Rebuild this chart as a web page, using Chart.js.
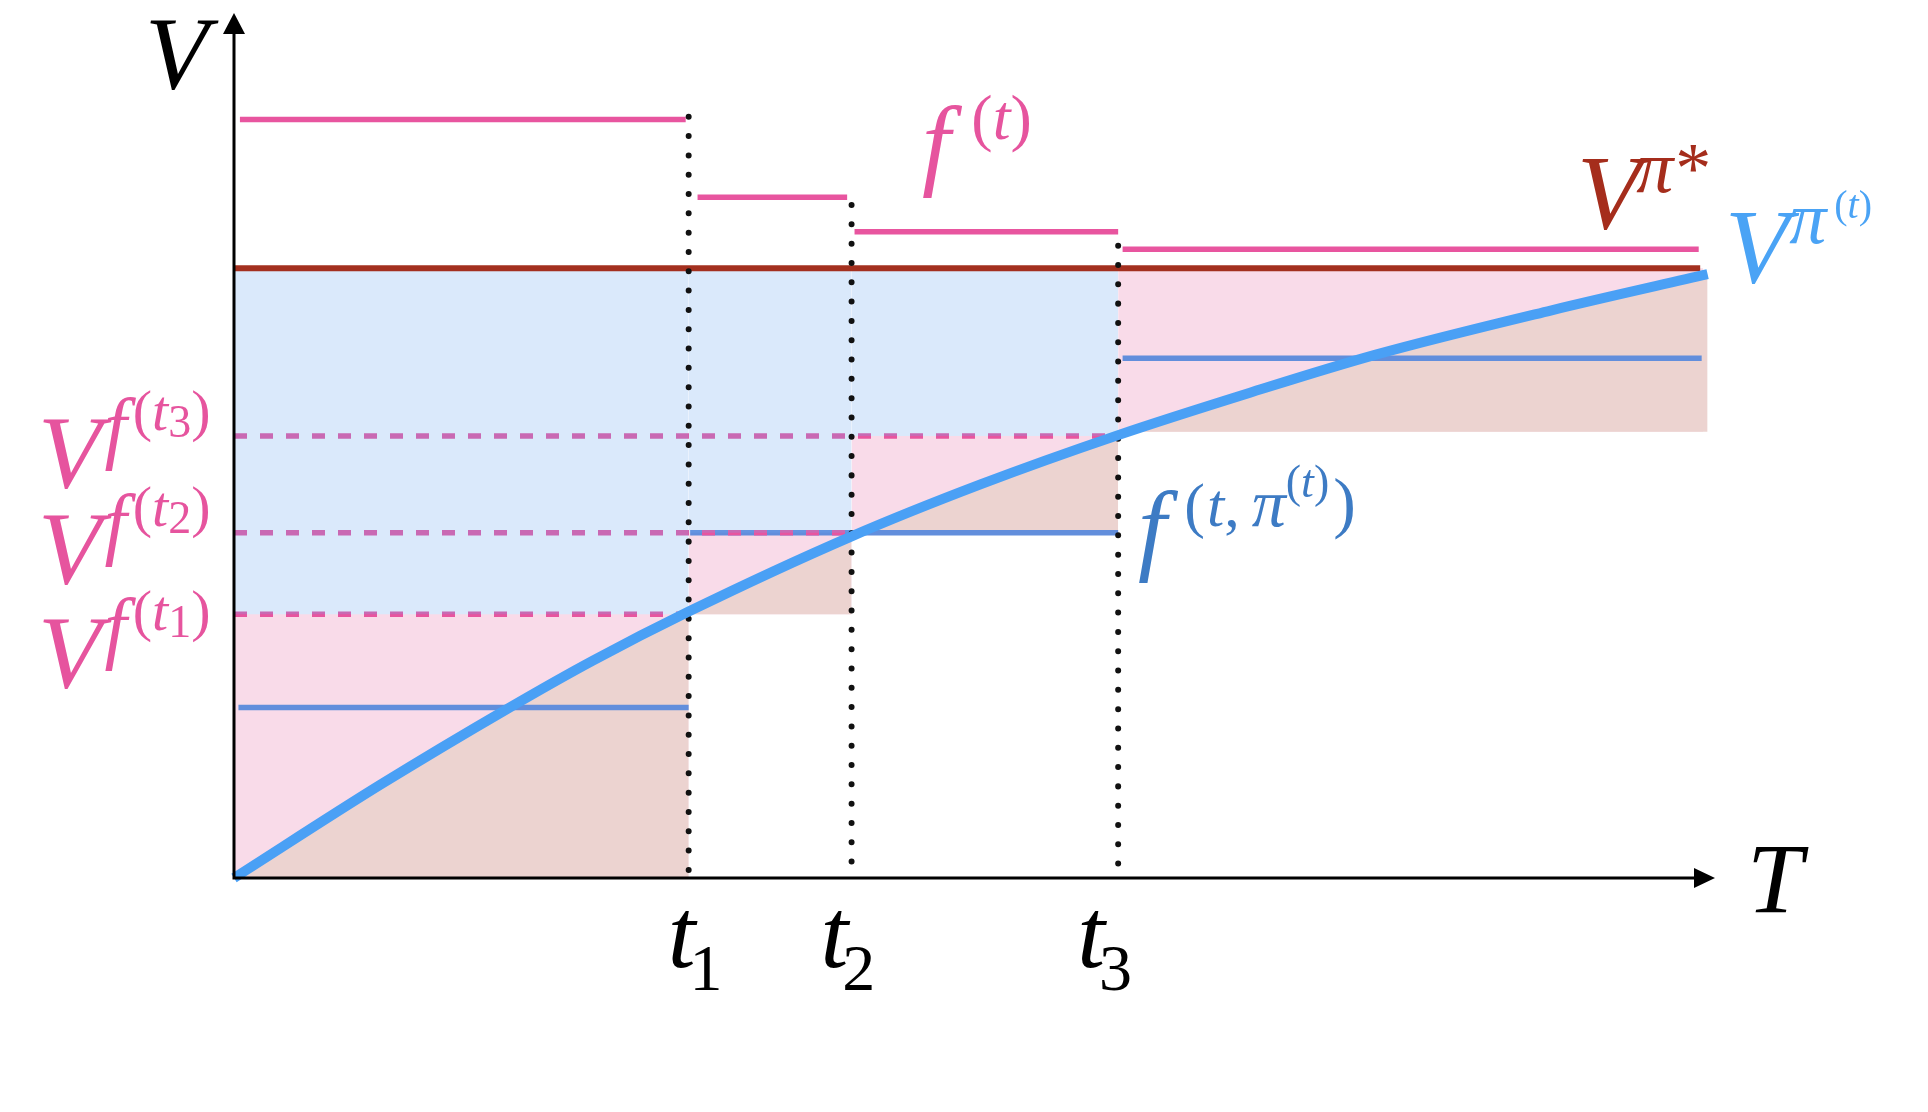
<!DOCTYPE html>
<html>
<head>
<meta charset="utf-8">
<script src="https://cdn.jsdelivr.net/npm/chart.js@4.4.0/dist/chart.umd.min.js"></script>
<style>
  html, body { margin: 0; padding: 0; background: #ffffff; }
  #wrap { width: 1928px; height: 1112px; }
</style>
</head>
<body>
<div id="wrap"><canvas id="chart" width="1928" height="1112"></canvas></div>
<script>
// marks on the T axis
const tMarks = [30.7, 41.7, 59.7];
const tNames = ['1', '2', '3'];
const dotTop = [88.0, 77.8, 73.1];

// f^(t): one step per interval
const fStart = [0.4, 31.3, 41.9, 60.0];
const fEnd = [30.5, 41.4, 59.7, 98.9];
const fValue = [87.7, 78.7, 74.7, 72.7];

// f^(t, pi^(t)) steps
const fpiStart = [0.3, 30.8, 60.0];
const fpiEnd = [30.7, 59.7, 99.1];
const fpiValue = [19.7, 39.9, 60.1];

// V^pi* level
const vStar = 70.5;
const vStarEnd = 99.0;

// V^f(t_k) levels (dashed), each runs from 0 to t_k
const vfLevels = [30.5, 39.9, 51.1];

// shaded bands between bandX[k] and bandX[k+1]
const bandX = [0, 30.7, 41.7, 59.7, 99.2];
const bandLow = [0, 30.5, 39.9, 51.6];
const bandHigh = [30.5, 39.9, 51.1, 70.5];

// V^pi(t) curve
const curveX = [0, 9.9, 18.4, 24.2, 30.7, 41.7, 50.4, 59.7, 68.6, 77.1, 88.9, 99.5];
const curveY = [0, 10.8, 19.5, 25.1, 30.8, 39.5, 45.5, 51.2, 56.1, 60.5, 65.6, 69.8];

const curvePts = curveX.map((x, i) => ({x: x, y: curveY[i]}));
const datasets = [];

function seg(x1, x2, y) {
    return [{x: x1, y: y}, {x: x2, y: y}];
}

// V^pi(t)
datasets.push({
    data: curvePts,
    borderColor: '#4aa0f5',
    borderWidth: 10,
    borderCapStyle: 'butt',
    cubicInterpolationMode: 'monotone',
    fill: false,
    order: 0
});

// dotted verticals
tMarks.forEach((t, i) => {
    datasets.push({
        data: [{x: t, y: dotTop[i]}, {x: t, y: 0}],
        borderColor: '#111111',
        borderWidth: 6,
        borderDash: [0.01, 19.3],
        borderCapStyle: 'round',
        fill: false,
        order: 1
    });
});

// V^pi*
datasets.push({
    data: seg(0, vStarEnd, vStar),
    borderColor: '#a3301f',
    borderWidth: 6,
    fill: false,
    order: 2
});

// f^(t)
fValue.forEach((v, i) => {
    datasets.push({
        data: seg(fStart[i], fEnd[i], v),
        borderColor: '#e8559f',
        borderWidth: 5.5,
        fill: false,
        order: 3
    });
});

// light blue gap up to V^pi*
for (let k = 0; k < 3; k++) {
    datasets.push({
        data: seg(bandX[k], bandX[k + 1], vStar),
        borderColor: 'transparent',
        borderWidth: 0,
        backgroundColor: 'rgba(107, 167, 239, 0.25)',
        fill: {value: bandHigh[k]},
        order: 4
    });
}

// V^f(t_k) dashed
vfLevels.forEach((v, i) => {
    datasets.push({
        data: seg(0, tMarks[i], v),
        borderColor: '#e8559f',
        borderWidth: 5.5,
        borderDash: [13, 13],
        fill: false,
        order: 5
    });
});

// f^(t, pi^(t))
fpiValue.forEach((v, i) => {
    datasets.push({
        data: seg(fpiStart[i], fpiEnd[i], v),
        borderColor: '#628edc',
        borderWidth: 5.5,
        fill: false,
        order: 6
    });
});

// area under the curve inside each band
for (let k = 0; k < 4; k++) {
    const last = k === 3;
    const pts = curvePts.filter(p => p.x >= bandX[k] && (last || p.x <= bandX[k + 1]));
    datasets.push({
        data: pts,
        borderColor: 'transparent',
        borderWidth: 0,
        backgroundColor: '#ecd3d0',
        cubicInterpolationMode: 'monotone',
        fill: {value: bandLow[k]},
        order: 7
    });
}

// pink bands
for (let k = 0; k < 4; k++) {
    datasets.push({
        data: seg(bandX[k], bandX[k + 1], bandHigh[k]),
        borderColor: 'transparent',
        borderWidth: 0,
        backgroundColor: '#f9dbe9',
        fill: {value: bandLow[k]},
        order: 8
    });
}

function drawRuns(ctx, x, base, runs, color) {
    ctx.fillStyle = color;
    ctx.textBaseline = 'alphabetic';
    ctx.textAlign = 'left';
    let cx = x;
    runs.forEach(r => {
        ctx.font = (r.it ? 'italic ' : '') + r.size + 'px "Liberation Serif"';
        cx += (r.kern || 0);
        ctx.fillText(r.s, cx, base - (r.up || 0));
        cx += ctx.measureText(r.s).width;
    });
}

const axesPlugin = {
    id: 'axes',
    afterDatasetsDraw(chart) {
        const {ctx, scales: {x, y}} = chart;
        const x0 = x.getPixelForValue(0), y0 = y.getPixelForValue(0);
        const xEnd = x.getPixelForValue(100), yEnd = y.getPixelForValue(100);
        ctx.save();
        ctx.strokeStyle = '#000';
        ctx.fillStyle = '#000';
        ctx.lineWidth = 3;
        ctx.beginPath();
        ctx.moveTo(x0, y0 + 1.5);
        ctx.lineTo(x0, yEnd + 18);
        ctx.moveTo(x0 - 1.5, y0);
        ctx.lineTo(xEnd - 18, y0);
        ctx.stroke();
        ctx.beginPath();
        ctx.moveTo(x0, yEnd);
        ctx.lineTo(x0 - 11, yEnd + 21);
        ctx.lineTo(x0 + 11, yEnd + 21);
        ctx.closePath();
        ctx.moveTo(xEnd, y0);
        ctx.lineTo(xEnd - 21, y0 - 10);
        ctx.lineTo(xEnd - 21, y0 + 10);
        ctx.closePath();
        ctx.fill();
        ctx.restore();
    }
};

const labelPlugin = {
    id: 'labels',
    afterDraw(chart) {
        const {ctx, scales: {x}} = chart;
        ctx.save();
        const pink = '#e6549e';

        drawRuns(ctx, 145, 88, [{s: 'V', size: 104, it: true}], '#000');
        drawRuns(ctx, 1747, 912, [{s: 'T', size: 100, it: true}], '#000');

        const tShift = [-21, -31, -41];
        tMarks.forEach((t, i) => {
            drawRuns(ctx, x.getPixelForValue(t) + tShift[i], 967, [
                {s: 't', size: 100, it: true},
                {s: tNames[i], size: 66, up: -23, kern: -6}
            ], '#000');
        });

        drawRuns(ctx, 922, 176, [
            {s: 'f', size: 102, it: true},
            {s: '(', size: 64, up: 37, kern: 21},
            {s: 't', size: 64, it: true, up: 37},
            {s: ')', size: 64, up: 37}
        ], pink);

        drawRuns(ctx, 1577, 228, [
            {s: 'V', size: 105, it: true},
            {s: 'π', size: 74, it: true, up: 36, kern: -5},
            {s: '*', size: 72, up: 36, kern: 2}
        ], '#a52d1c');

        drawRuns(ctx, 1725, 282, [
            {s: 'V', size: 105, it: true},
            {s: 'π', size: 74, it: true, up: 39, kern: 0},
            {s: '(', size: 40, up: 64, kern: 8},
            {s: 't', size: 40, it: true, up: 64},
            {s: ')', size: 40, up: 64}
        ], '#4aa3f5');

        drawRuns(ctx, 1138, 561, [
            {s: 'f', size: 102, it: true},
            {s: '(', size: 62, up: 35, kern: 18},
            {s: 't', size: 62, it: true, up: 35, kern: 2},
            {s: ',', size: 62, up: 35},
            {s: 'π', size: 68, it: true, up: 35, kern: 12},
            {s: '(', size: 46, up: 64},
            {s: 't', size: 46, it: true, up: 64},
            {s: ')', size: 46, up: 64},
            {s: ')', size: 68, up: 36, kern: 4}
        ], '#3d7bc4');

        const vfBase = [687, 583, 487];
        vfBase.forEach((b, i) => {
            drawRuns(ctx, 38, b, [
                {s: 'V', size: 104, it: true},
                {s: 'f', size: 80, it: true, up: 33, kern: 3},
                {s: '(', size: 58, up: 57, kern: 6},
                {s: 't', size: 58, it: true, up: 57},
                {s: tNames[i], size: 46, up: 50},
                {s: ')', size: 58, up: 57}
            ], pink);
        });
        ctx.restore();
    }
};

new Chart(document.getElementById('chart'), {
    type: 'line',
    data: {datasets: datasets},
    options: {
        responsive: false,
        animation: false,
        layout: {padding: {left: 234, right: 213, top: 13, bottom: 234}},
        elements: {point: {radius: 0, hoverRadius: 0}, line: {tension: 0}},
        datasets: {line: {clip: false}},
        scales: {
            x: {type: 'linear', min: 0, max: 100, display: false},
            y: {type: 'linear', min: 0, max: 100, display: false}
        },
        plugins: {
            legend: {display: false},
            tooltip: {enabled: false}
        }
    },
    plugins: [axesPlugin, labelPlugin]
});
</script>
</body>
</html>
